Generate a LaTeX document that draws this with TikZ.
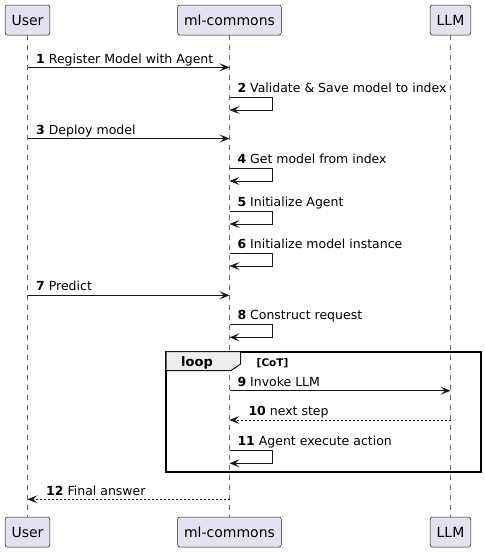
\documentclass[tikz,border=0pt]{standalone}
\usepackage{fontspec}
\setmainfont{DejaVu Sans}
\usetikzlibrary{arrows.meta}

\definecolor{partfill}{HTML}{E2E2F0}
\definecolor{partline}{HTML}{181818}
\definecolor{tabfill}{HTML}{EEEEEE}

\tikzset{
  participant/.style={draw=partline, fill=partfill, rounded corners=2.5pt, line width=0.5pt,
    minimum height=30pt, inner xsep=6.5pt, font=\fontsize{14}{16}\selectfont},
  lifeline/.style={draw=partline!65, line width=0.5pt, dash pattern=on 5pt off 5pt},
  msg/.style={draw=partline, line width=0.8pt, -{Stealth[length=10pt,width=8pt,inset=4.5pt]}},
  reply/.style={msg, dash pattern=on 2pt off 2pt},
  lbl/.style={anchor=base west, inner sep=0pt, font=\fontsize{12.5}{15}\selectfont},
}

\begin{document}
\begin{tikzpicture}[x=1pt, y=-1pt]  % 1 单位 = 1 像素, y 轴向下

    \useasboundingbox (0,0) rectangle (485,552);

    % 参与者 (上)
    \node[participant] (userT) at (27.5,20) {User};
    \node[participant] (mlT) at (229.5,20) {ml-commons};
    \node[participant] (llmT) at (450.5,20) {LLM};

    % 参与者 (下)
    \node[participant] (userB) at (27.5,532) {User};
    \node[participant] (mlB) at (229.5,532) {ml-commons};
    \node[participant] (llmB) at (450.5,532) {LLM};

    % 生命线
    \draw[lifeline] (userT) -- (userB);
    \draw[lifeline] (mlT) -- (mlB);
    \draw[lifeline] (llmT) -- (llmB);

    % loop 框
    \draw[line width=1.8pt] (166,351.7) rectangle (480.7,471.7);
    \filldraw[fill=tabfill, draw=partline, line width=1pt] (166,351.7) -- (240.7,351.7) -- (240.7,364)
        -- (230.7,370.7) -- (166,370.7) -- cycle; % 标签页
    \node[anchor=base, inner sep=0pt, font=\fontsize{13}{15}\selectfont\bfseries] (looplbl) at (197,366.5) {loop};
    \node[lbl, font=\fontsize{10.5}{12}\selectfont\bfseries] (cond) at (256.5,366) {[CoT]};

    % 消息 1 - 3
    \draw[msg] (userT |- 0,67.3) -- (mlT |- 0,67.3);
    \node[lbl] (l1) at (36,63) {\textbf{1} Register Model with Agent};
    \draw[msg] (mlT |- 0,97.7) -- ++(42.7,0) |- (mlT |- 0,110);
    \node[lbl] (l2) at (237.3,92.7) {\textbf{2} Validate \& Save model to index};
    \draw[msg] (userT |- 0,138.5) -- (mlT |- 0,138.5);
    \node[lbl] (l3) at (36,134.2) {\textbf{3} Deploy model};

    % 消息 4 - 6 (自调用)
    \draw[msg] (mlT |- 0,168.3) -- ++(42.7,0) |- (mlT |- 0,181);
    \node[lbl] (l4) at (237.3,163.3) {\textbf{4} Get model from index};
    \draw[msg] (mlT |- 0,211.3) -- ++(42.7,0) |- (mlT |- 0,224);
    \node[lbl] (l5) at (237.3,206.3) {\textbf{5} Initialize Agent};
    \draw[msg] (mlT |- 0,253.3) -- ++(42.7,0) |- (mlT |- 0,266);
    \node[lbl] (l6) at (237.3,248.3) {\textbf{6} Initialize model instance};

    % 消息 7 - 8
    \draw[msg] (userT |- 0,295.3) -- (mlT |- 0,295.3);
    \node[lbl] (l7) at (36,290.8) {\textbf{7} Predict};
    \draw[msg] (mlT |- 0,324.3) -- ++(42.7,0) |- (mlT |- 0,337.3);
    \node[lbl] (l8) at (237.3,319.3) {\textbf{8} Construct request};

    % 循环内消息 9 - 11
    \draw[msg] (mlT |- 0,390.7) -- (llmT |- 0,390.7);
    \node[lbl] (l9) at (237.3,386.5) {\textbf{9} Invoke LLM};
    \draw[reply] (llmT |- 0,420) -- (mlT |- 0,420);
    \node[lbl] (l10) at (248.3,415.8) {\textbf{10} next step};
    \draw[msg] (mlT |- 0,450.7) -- ++(42.7,0) |- (mlT |- 0,463.3);
    \node[lbl] (l11) at (237.3,445.7) {\textbf{11} Agent execute action};

    % 消息 12
    \draw[reply] (mlT |- 0,499.3) -- (userT |- 0,499.3);
    \node[lbl] (l12) at (46,495) {\textbf{12} Final answer};

\end{tikzpicture}
\end{document}
